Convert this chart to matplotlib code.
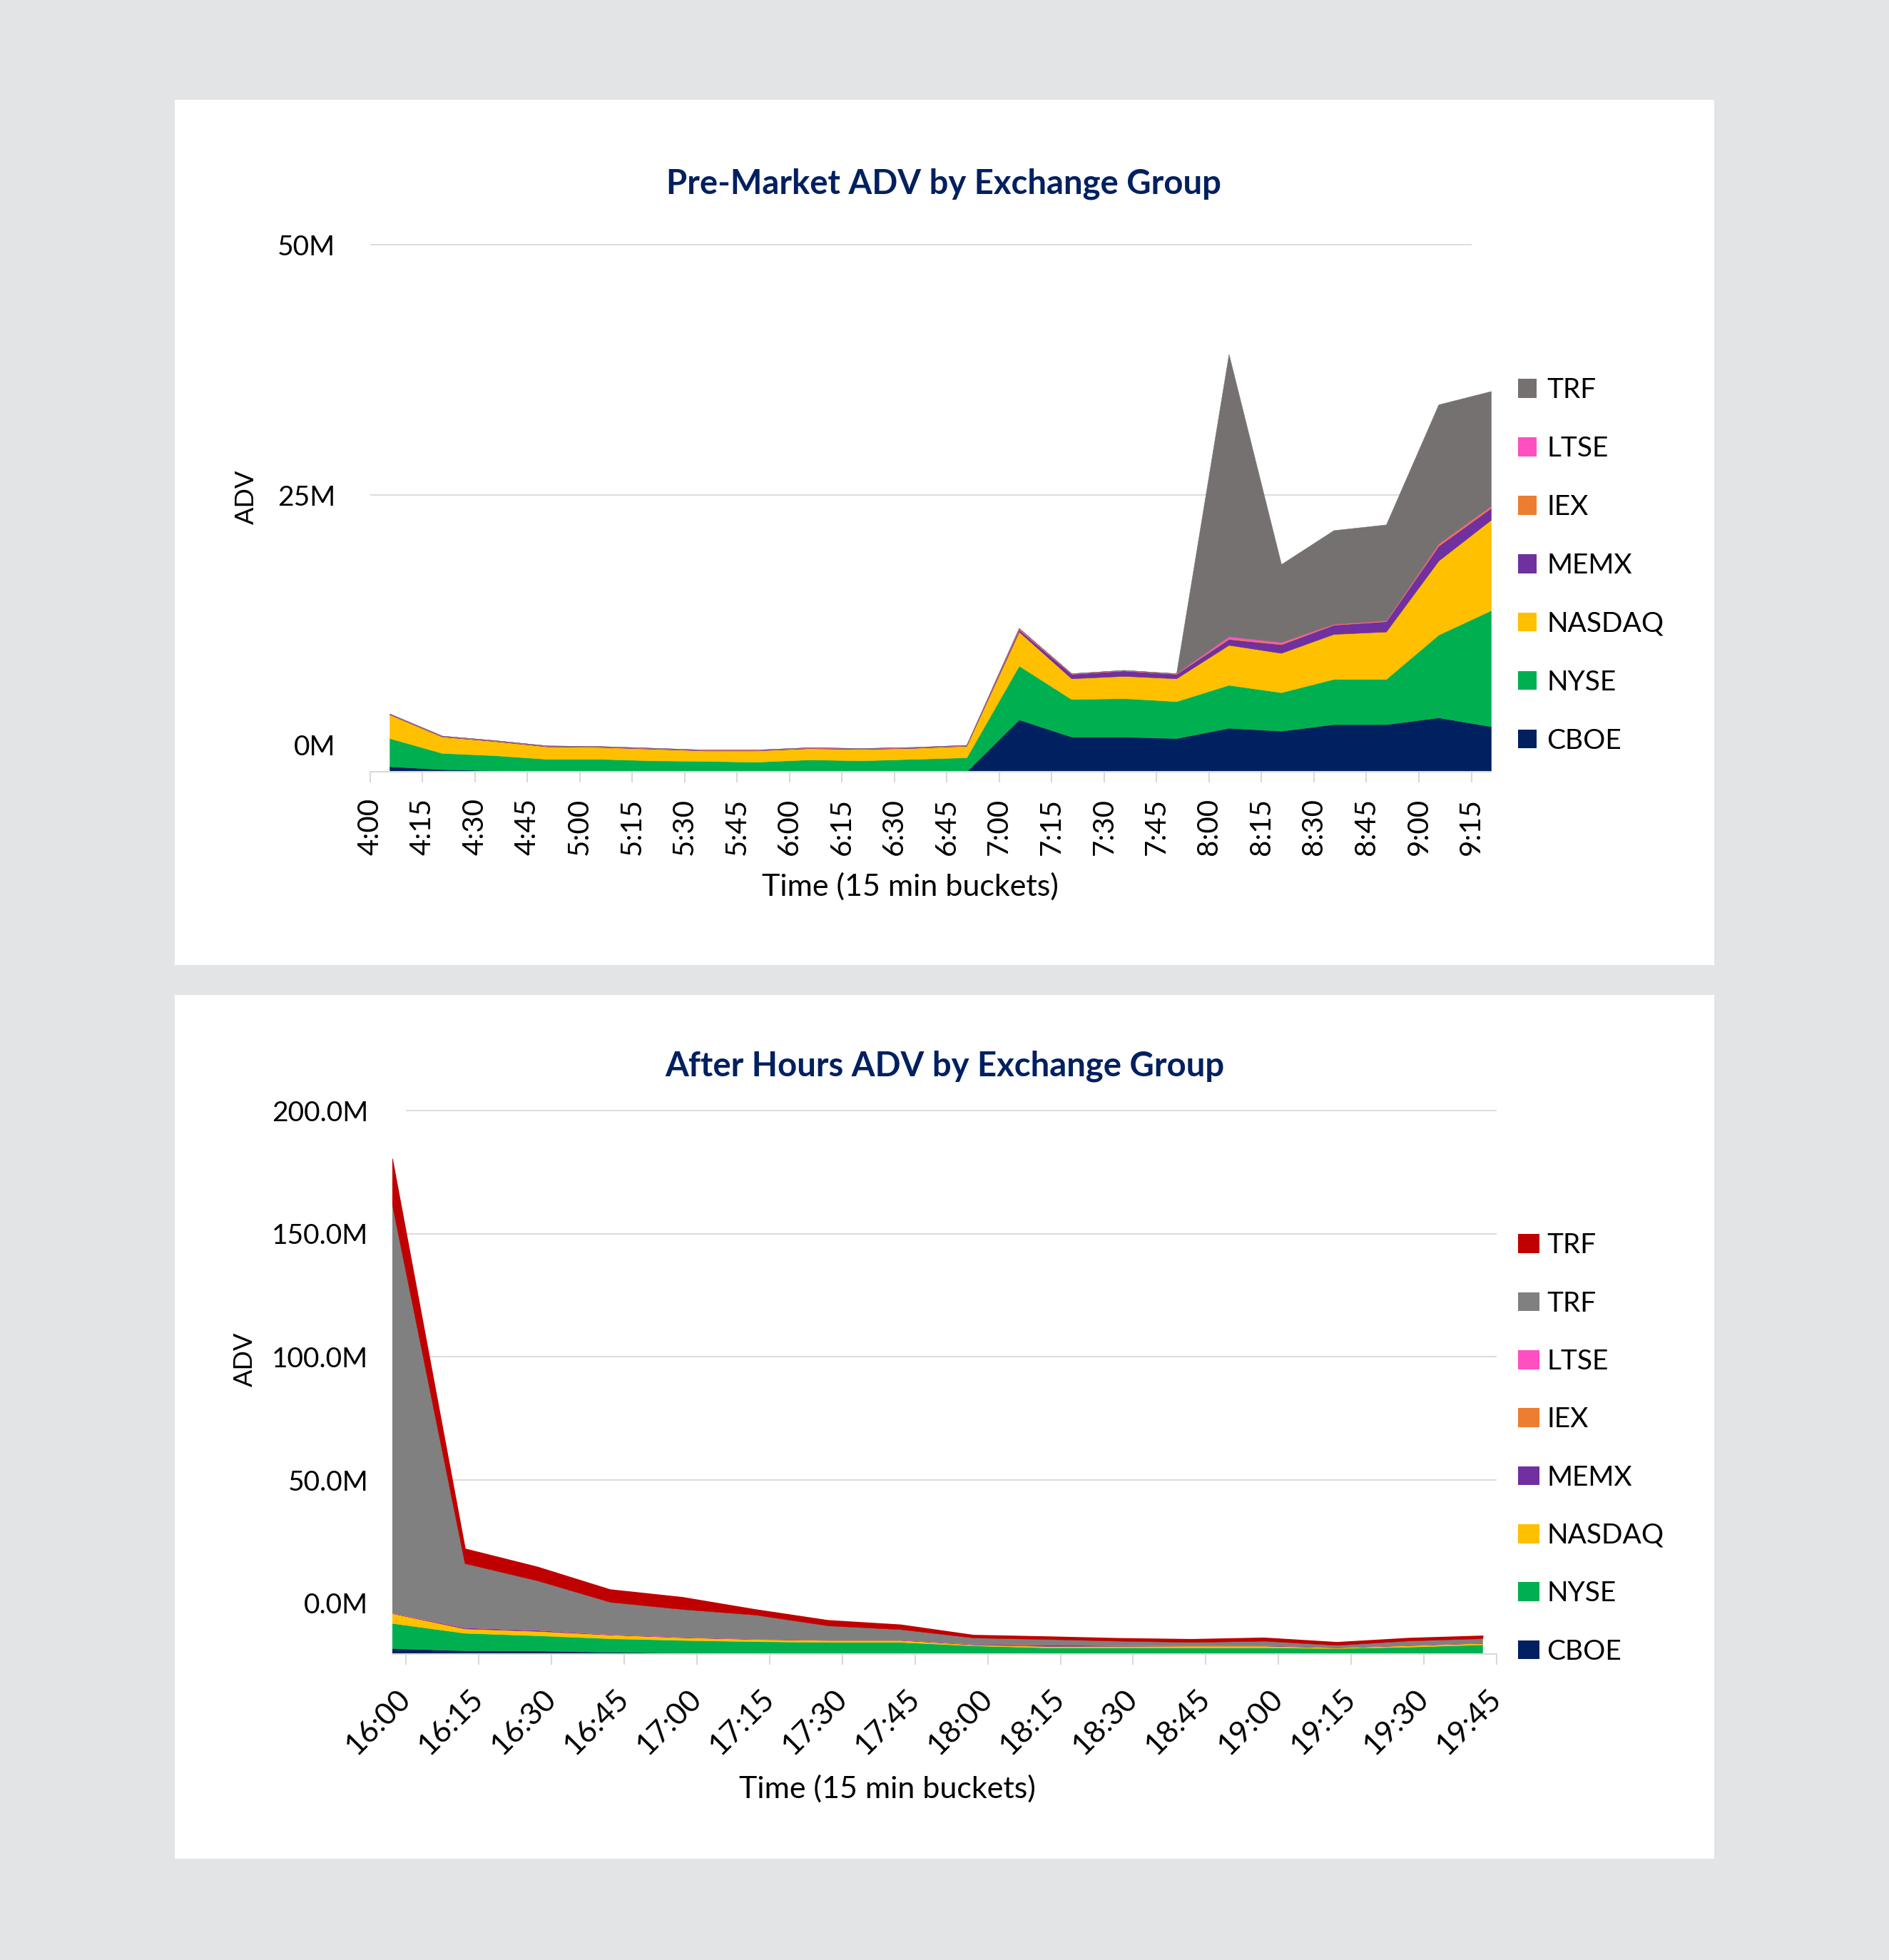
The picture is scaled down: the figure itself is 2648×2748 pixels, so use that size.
import matplotlib
matplotlib.use("Agg")
import matplotlib.pyplot as plt
from matplotlib.patches import Rectangle, Patch
import numpy as np

plt.rcParams['font.family'] = ['Lato', 'DejaVu Sans']

# ---------------- Pre-market data (layer thickness, millions) ----------------
pre_times = ['4:00', '4:15', '4:30', '4:45', '5:00', '5:15', '5:30', '5:45',
             '6:00', '6:15', '6:30', '6:45', '7:00', '7:15', '7:30', '7:45',
             '8:00', '8:15', '8:30', '8:45', '9:00', '9:15']
pre_cboe = [0.50, 0.21, 0.09, 0.03, 0, 0, 0, 0, 0, 0, 0, 0,
            5.17, 3.46, 3.46, 3.31, 4.34, 4.05, 4.70, 4.70, 5.38, 4.49]
pre_nyse = [2.81, 1.62, 1.51, 1.21, 1.24, 1.09, 1.03, 0.95, 1.18, 1.09, 1.24, 1.39,
            5.38, 3.75, 3.84, 3.69, 4.29, 3.84, 4.52, 4.52, 8.27, 11.59]
pre_nasdaq = [2.36, 1.63, 1.41, 1.24, 1.18, 1.16, 1.04, 1.12, 1.12, 1.13, 1.09, 1.15,
              3.40, 2.07, 2.22, 2.28, 3.99, 3.93, 4.49, 4.73, 7.39, 9.04]
pre_memx = [0.04, 0.04, 0.04, 0.04, 0.04, 0.04, 0.04, 0.04, 0.04, 0.04, 0.04, 0.04,
            0.20, 0.44, 0.53, 0.44, 0.59, 0.86, 0.92, 1.03, 1.48, 1.18]
pre_iex = [0.02, 0.02, 0.02, 0.02, 0.02, 0.02, 0.02, 0.02, 0.02, 0.02, 0.02, 0.02,
           0.05, 0.03, 0.03, 0.03, 0.09, 0.10, 0.05, 0.05, 0.15, 0.15]
pre_ltse = [0.03, 0.03, 0.03, 0.03, 0.03, 0.03, 0.03, 0.03, 0.03, 0.03, 0.03, 0.03,
            0.10, 0.03, 0.03, 0.03, 0.18, 0.13, 0.04, 0.04, 0.08, 0.06]
pre_trf = [0, 0, 0, 0, 0, 0, 0, 0, 0, 0, 0, 0,
           0, 0, 0, 0, 28.19, 7.78, 9.36, 9.58, 13.89, 11.46]
pre_yticks = [0, 25, 50]
pre_yticklabels = ['0M', '25M', '50M']

# ---------------- After-hours data (layer thickness, millions) ----------------
ah_times = ['16:00', '16:15', '16:30', '16:45', '17:00', '17:15', '17:30', '17:45',
            '18:00', '18:15', '18:30', '18:45', '19:00', '19:15', '19:30', '19:45']
ah_cboe = [2.2, 1.3, 1.2, 0.7, 0.4, 0.3, 0.3, 0.3, 0.15, 0.1, 0.1, 0.1, 0.1, 0.1, 0.1, 0.1]
ah_nyse = [10.2, 7.1, 6.2, 5.5, 5.1, 4.7, 4.4, 4.4, 3.15, 2.4, 2.4, 2.4, 2.4, 2.1, 2.7, 3.6]
ah_nasdaq = [4.0, 1.8, 1.8, 1.5, 1.1, 0.9, 0.8, 0.8, 0.4, 0.6, 0.6, 0.7, 0.7, 0.3, 0.6, 0.6]
ah_memx = [0.1, 0.4, 0.4, 0.15, 0.15, 0.1, 0.1, 0.1, 0.2, 0.5, 0.3, 0.2, 0.2, 0.1, 0.1, 0.1]
ah_iex = [0.05] * 16
ah_ltse = [0.05] * 16
ah_trf_gray = [165.9, 26.0, 20.0, 13.05, 11.2, 9.7, 5.7, 4.2, 2.5, 2.2, 1.7, 1.2, 1.7, 0.8, 1.7, 1.7]
ah_trf_red = [18.0, 5.6, 5.2, 4.7, 4.5, 1.8, 1.8, 1.5, 0.7, 0.7, 0.7, 0.8, 0.9, 0.8, 0.7, 0.7]
ah_yticks = [0, 50, 100, 150, 200]
ah_yticklabels = ['0.0M', '50.0M', '100.0M', '150.0M', '200.0M']

# ---------------- styling ----------------
C_CBOE, C_NYSE, C_NASDAQ = '#002060', '#00B050', '#FFC000'
C_MEMX, C_IEX, C_LTSE = '#7030A0', '#ED7D31', '#FF4FC1'
C_TRF1, C_TRF2, C_RED = '#767171', '#808080', '#C00000'
NAVY = '#002060'
GRID = '#d9d9d9'

W, H = 2648, 2748
def fx(px): return px / W
def fy(py): return 1 - py / H

fig = plt.figure(figsize=(W / 100, H / 100), dpi=100)
fig.patch.set_facecolor('#e3e4e5')

for (x0, y0, x1, y1) in [(245, 140, 2403, 1353), (245, 1395, 2403, 2606)]:
    fig.add_artist(Rectangle((fx(x0), fy(y1)), fx(x1) - fx(x0), fy(y0) - fy(y1),
                             transform=fig.transFigure, facecolor='white',
                             edgecolor='none', zorder=-5))


def stacked(ax, x, layers, colors, base):
    cum = np.full(len(x), float(base))
    for vals, c in zip(layers, colors):
        top = cum + np.asarray(vals, dtype=float)
        ax.fill_between(x, cum, top, facecolor=c, edgecolor=c, linewidth=0.4, zorder=2)
        cum = top
    return cum


def style_axis(ax, xticks, yticks, ylabels, ypad, xpad, xsize):
    for s in ['top', 'right', 'left']:
        ax.spines[s].set_visible(False)
    ax.spines['bottom'].set_color(GRID)
    ax.spines['bottom'].set_linewidth(1.5)
    ax.spines['bottom'].set_zorder(3)
    ax.patch.set_alpha(0)
    ax.set_xticks(xticks)
    ax.set_yticks(yticks)
    ax.set_yticklabels(ylabels)
    ax.tick_params(axis='x', length=10.8, width=1.5, color=GRID, labelsize=xsize,
                   labelcolor='black', pad=xpad)
    ax.tick_params(axis='y', length=0, labelsize=28, labelcolor='black', pad=ypad)


# ================= Pre-market =================
ax1 = fig.add_axes([fx(518.7), fy(1081.5), fx(2090) - fx(518.7), fy(329) - fy(1081.5)])
n1 = len(pre_times)
x1 = np.arange(n1) + 0.374
ax1.set_xlim(0, n1 - 1 + 0.374)
ax1.set_ylim(-2.6, 51)
ax1.hlines([t for t in pre_yticks if t != 0], 0, n1 - 1, color=GRID, lw=1.3, zorder=1)
stacked(ax1, x1,
        [pre_cboe, pre_nyse, pre_nasdaq, pre_memx, pre_iex, pre_ltse, pre_trf],
        [C_CBOE, C_NYSE, C_NASDAQ, C_MEMX, C_IEX, C_LTSE, C_TRF1], -2.6)
style_axis(ax1, np.arange(n1), pre_yticks, pre_yticklabels, 35, 16, 29)
ax1.set_xticklabels(pre_times, rotation=90)
ax1.set_title('Pre-Market ADV by Exchange Group', x=0.5119, y=1.083, va='center',
              fontsize=34, fontweight='bold', color=NAVY)
ax1.set_xlabel('Time (15 min buckets)', fontsize=31, va='center')
ax1.xaxis.set_label_coords(0.482, -0.2146)
ax1.set_ylabel('ADV', fontsize=26, va='center')
ax1.yaxis.set_label_coords(-0.1105, 0.511)

h1 = [Patch(facecolor=c) for c in [C_TRF1, C_LTSE, C_IEX, C_MEMX, C_NASDAQ, C_NYSE, C_CBOE]]
l1 = ['TRF', 'LTSE', 'IEX', 'MEMX', 'NASDAQ', 'NYSE', 'CBOE']
ax1.legend(h1, l1, loc='center left', bbox_to_anchor=(fx(2128), fy(793)),
           bbox_transform=fig.transFigure, frameon=False, borderpad=0, borderaxespad=0,
           handlelength=0.67, handleheight=0.67, handletextpad=0.36, labelspacing=1.18,
           fontsize=28)

# ================= After hours =================
ax2 = fig.add_axes([fx(549.5), fy(2318.5), fx(2097.9) - fx(549.5), fy(1539.9) - fy(2318.5)])
n2 = len(ah_times)
x2 = np.arange(n2) - 0.196
ax2.set_xlim(-0.196, n2 - 1)
ax2.set_ylim(-20.5, 205)
ax2.hlines([t for t in ah_yticks if t != 0], 0, n2 - 1, color=GRID, lw=1.3, zorder=1)
top2 = stacked(ax2, x2,
               [ah_cboe, ah_nyse, ah_nasdaq, ah_memx, ah_iex, ah_ltse, ah_trf_gray, ah_trf_red],
               [C_CBOE, C_NYSE, C_NASDAQ, C_MEMX, C_IEX, C_LTSE, C_TRF2, C_RED], -20.5)
ax2.plot(x2, top2, color=C_RED, lw=2.2, solid_joinstyle='round', zorder=2.5)
style_axis(ax2, np.arange(n2), ah_yticks, ah_yticklabels, 24, 30, 31)
ax2.set_xticklabels(ah_times, rotation=45, ha='right', va='center', rotation_mode='anchor')
ax2.set_title('After Hours ADV by Exchange Group', x=0.5002, y=1.0467, va='center',
              fontsize=34, fontweight='bold', color=NAVY)
ax2.set_xlabel('Time (15 min buckets)', fontsize=31, va='center')
ax2.xaxis.set_label_coords(0.4485, -0.2434)
ax2.set_ylabel('ADV', fontsize=26, va='center')
ax2.yaxis.set_label_coords(-0.1334, 0.5298)

h2 = [Patch(facecolor=c) for c in [C_RED, C_TRF2, C_LTSE, C_IEX, C_MEMX, C_NASDAQ, C_NYSE, C_CBOE]]
l2 = ['TRF', 'TRF', 'LTSE', 'IEX', 'MEMX', 'NASDAQ', 'NYSE', 'CBOE']
ax2.legend(h2, l2, loc='center left', bbox_to_anchor=(fx(2128), fy(2031)),
           bbox_transform=fig.transFigure, frameon=False, borderpad=0, borderaxespad=0,
           handlelength=0.77, handleheight=0.68, handletextpad=0.26, labelspacing=1.165,
           fontsize=28)

fig.savefig('out.png', dpi=100, facecolor=fig.get_facecolor())
